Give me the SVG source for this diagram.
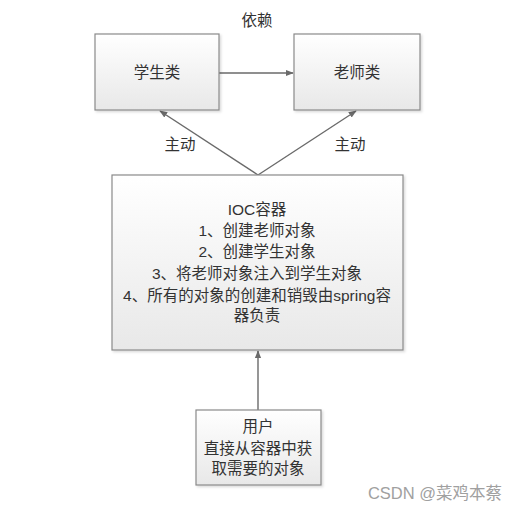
<svg xmlns="http://www.w3.org/2000/svg" width="518" height="508" viewBox="0 0 518 508">
<defs>
<linearGradient id="g" x1="0" y1="0" x2="0" y2="1">
<stop offset="0" stop-color="#ffffff"/>
<stop offset="1" stop-color="#e8e8e8"/>
</linearGradient>
<marker id="a" viewBox="0 0 10 10" refX="9" refY="5" markerWidth="8" markerHeight="8" orient="auto" markerUnits="userSpaceOnUse">
<path d="M0,1 L10,5 L0,9 z" fill="#6a6a6a"/>
</marker>
<filter id="s" x="-10%" y="-10%" width="120%" height="120%">
<feDropShadow dx="1.5" dy="1.5" stdDeviation="1" flood-color="#000" flood-opacity="0.15"/>
</filter>
</defs>
<style>
.box{fill:url(#g);stroke:#8a8a8a;stroke-width:1.2;filter:url(#s)}
text{font-family:"Liberation Sans","Noto Sans CJK SC",sans-serif;font-size:15.5px;fill:#333;text-anchor:middle}
.c{stroke:#6a6a6a;stroke-width:1.4;fill:none;marker-end:url(#a)}
</style>
<rect width="518" height="508" fill="#fff"/>
<g id="connectors">
<line class="c" x1="219" y1="73" x2="293" y2="73"/>
<line class="c" x1="258" y1="175" x2="160" y2="111"/>
<line class="c" x1="258" y1="175" x2="356" y2="111"/>
<line class="c" x1="258" y1="410" x2="258" y2="351"/>
<text x="257" y="26">依赖</text>
<text x="180" y="150">主动</text>
<text x="350" y="150">主动</text>
</g>
<g id="student">
<rect class="box" x="95" y="34" width="124" height="76"/>
<text x="157" y="78">学生类</text>
</g>
<g id="teacher">
<rect class="box" x="294" y="34" width="126" height="76"/>
<text x="357" y="78">老师类</text>
</g>
<g id="ioc">
<rect class="box" x="112" y="175" width="291" height="175"/>
<text x="257" y="215">IOC容器</text>
<text x="257" y="236">1、创建老师对象</text>
<text x="257" y="257">2、创建学生对象</text>
<text x="257" y="279">3、将老师对象注入到学生对象</text>
<text x="257" y="301">4、所有的对象的创建和销毁由spring容</text>
<text x="257" y="321">器负责</text>
</g>
<g id="user">
<rect class="box" x="196" y="410" width="125" height="75"/>
<text x="258" y="432">用户</text>
<text x="258" y="454">直接从容器中获</text>
<text x="258" y="474">取需要的对象</text>
</g>
<text x="502" y="499" style="font-size:16.5px;fill:#a0a0a0;text-anchor:end">CSDN @菜鸡本蔡</text>
</svg>
